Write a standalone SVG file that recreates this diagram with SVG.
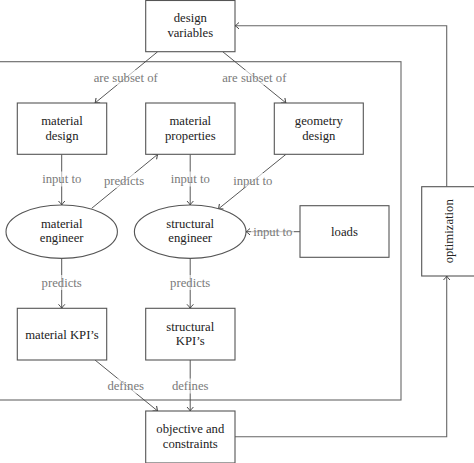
<svg xmlns="http://www.w3.org/2000/svg" width="474" height="463" viewBox="0 0 474 463">
<defs>
<marker id="ah" markerUnits="userSpaceOnUse" markerWidth="12" markerHeight="12" viewBox="-6 -6 12 12" refX="0" refY="0" orient="auto">
<path d="M -4 -3.2 Q -1.2 -0.6 0 0 Q -1.2 0.6 -4 3.2" fill="none" stroke="#333" stroke-width="0.9"/>
</marker>
</defs>
<style>
.box{fill:#fff;stroke:#555;stroke-width:1.1}
.nt{font-family:"Liberation Serif","Times New Roman",serif;font-size:12.7px;fill:#222;text-anchor:middle}
.lt{font-family:"Liberation Serif","Times New Roman",serif;font-size:12.7px;fill:#7a7a7a;text-anchor:middle}
.ln{fill:none;stroke:#444;stroke-width:0.9}
.fr{fill:none;stroke:#666;stroke-width:1.1}
.lb{fill:#fff;fill-opacity:0.6}
</style>
<rect class="fr" x="-2" y="61.7" width="403" height="338.3"/>
<g id="connectors">
<line class="ln" x1="157.7" y1="51.7" x2="95" y2="103" marker-end="url(#ah)"/>
<line class="ln" x1="222.7" y1="51.7" x2="286" y2="103" marker-end="url(#ah)"/>
<line class="ln" x1="61.7" y1="154.3" x2="61.7" y2="205" marker-end="url(#ah)"/>
<line class="ln" x1="91.7" y1="208.3" x2="157.7" y2="154.3" marker-end="url(#ah)"/>
<line class="ln" x1="190.2" y1="154.3" x2="190.2" y2="205" marker-end="url(#ah)"/>
<line class="ln" x1="286" y1="154.3" x2="218.3" y2="209" marker-end="url(#ah)"/>
<line class="ln" x1="300" y1="231.7" x2="246" y2="231.7" marker-end="url(#ah)"/>
<line class="ln" x1="61.7" y1="258.4" x2="61.7" y2="308.3" marker-end="url(#ah)"/>
<line class="ln" x1="190.2" y1="258.4" x2="190.2" y2="308.3" marker-end="url(#ah)"/>
<line class="ln" x1="95" y1="360" x2="157.7" y2="411" marker-end="url(#ah)"/>
<line class="ln" x1="190.2" y1="360" x2="190.2" y2="411" marker-end="url(#ah)"/>
<polyline class="fr" points="235,436.7 446.7,436.7 446.7,276" marker-end="url(#ah)"/>
<polyline class="fr" points="446.7,186.7 446.7,25.7 235,25.7" marker-end="url(#ah)"/>
<g id="labels">
<rect class="lb" x="93" y="70" width="65" height="15"/>
<text class="lt" x="125.7" y="82">are subset of</text>
<rect class="lb" x="222" y="70" width="65" height="15"/>
<text class="lt" x="254.3" y="82">are subset of</text>
<rect class="lb" x="40" y="171.5" width="43" height="15"/>
<text class="lt" x="61.7" y="183.3">input to</text>
<rect class="lb" x="103" y="173" width="42" height="15"/>
<text class="lt" x="124" y="185">predicts</text>
<rect class="lb" x="168.5" y="171.5" width="43" height="15"/>
<text class="lt" x="190.2" y="183.3">input to</text>
<rect class="lb" x="231" y="173" width="43" height="15"/>
<text class="lt" x="252.7" y="185">input to</text>
<rect class="lb" x="251" y="224" width="43" height="15"/>
<text class="lt" x="272.7" y="236">input to</text>
<rect class="lb" x="40.7" y="275" width="42" height="15"/>
<text class="lt" x="61.7" y="287">predicts</text>
<rect class="lb" x="169.2" y="275" width="42" height="15"/>
<text class="lt" x="190.2" y="287">predicts</text>
<rect class="lb" x="106" y="378.5" width="40" height="15"/>
<text class="lt" x="125.7" y="390.3">defines</text>
<rect class="lb" x="170.2" y="378.5" width="40" height="15"/>
<text class="lt" x="190.2" y="390.3">defines</text>
</g>
</g>
<g id="design-variables">
<rect class="box" x="145.7" y="0.5" width="89.3" height="51.2"/>
<text class="nt" x="190.3" y="22">design</text>
<text class="nt" x="190.3" y="37">variables</text>
</g>
<g id="material-design">
<rect class="box" x="17.3" y="103" width="89.4" height="51.3"/>
<text class="nt" x="62" y="124.8">material</text>
<text class="nt" x="62" y="139.6">design</text>
</g>
<g id="material-properties">
<rect class="box" x="145.7" y="103" width="89.3" height="51.3"/>
<text class="nt" x="190.3" y="124.8">material</text>
<text class="nt" x="190.3" y="139.6">properties</text>
</g>
<g id="geometry-design">
<rect class="box" x="274.3" y="103" width="89" height="51.3"/>
<text class="nt" x="318.8" y="124.8">geometry</text>
<text class="nt" x="318.8" y="139.6">design</text>
</g>
<g id="material-engineer">
<ellipse class="box" cx="61.7" cy="231.7" rx="55.7" ry="26.7"/>
<text class="nt" x="61.7" y="227.5">material</text>
<text class="nt" x="61.7" y="242.3">engineer</text>
</g>
<g id="structural-engineer">
<ellipse class="box" cx="190.2" cy="231.7" rx="55.8" ry="26.7"/>
<text class="nt" x="190.2" y="227.5">structural</text>
<text class="nt" x="190.2" y="242.3">engineer</text>
</g>
<g id="loads">
<rect class="box" x="300" y="205.7" width="89" height="51.6"/>
<text class="nt" x="344.5" y="236">loads</text>
</g>
<g id="optimization">
<rect class="box" x="421.7" y="186.7" width="54" height="89.3"/>
<text class="nt" transform="translate(452.5,231.3) rotate(-90)" x="0" y="0">optimization</text>
</g>
<g id="material-kpis">
<rect class="box" x="17.3" y="308.3" width="89.4" height="51.7"/>
<text class="nt" x="62" y="338.5">material KPI’s</text>
</g>
<g id="structural-kpis">
<rect class="box" x="145.7" y="308.3" width="89.3" height="51.7"/>
<text class="nt" x="190.3" y="330.5">structural</text>
<text class="nt" x="190.3" y="345.3">KPI’s</text>
</g>
<g id="objective-constraints">
<rect class="box" x="145.7" y="411" width="89.3" height="52"/>
<text class="nt" x="190.3" y="433">objective and</text>
<text class="nt" x="190.3" y="447.8">constraints</text>
</g>
</svg>
